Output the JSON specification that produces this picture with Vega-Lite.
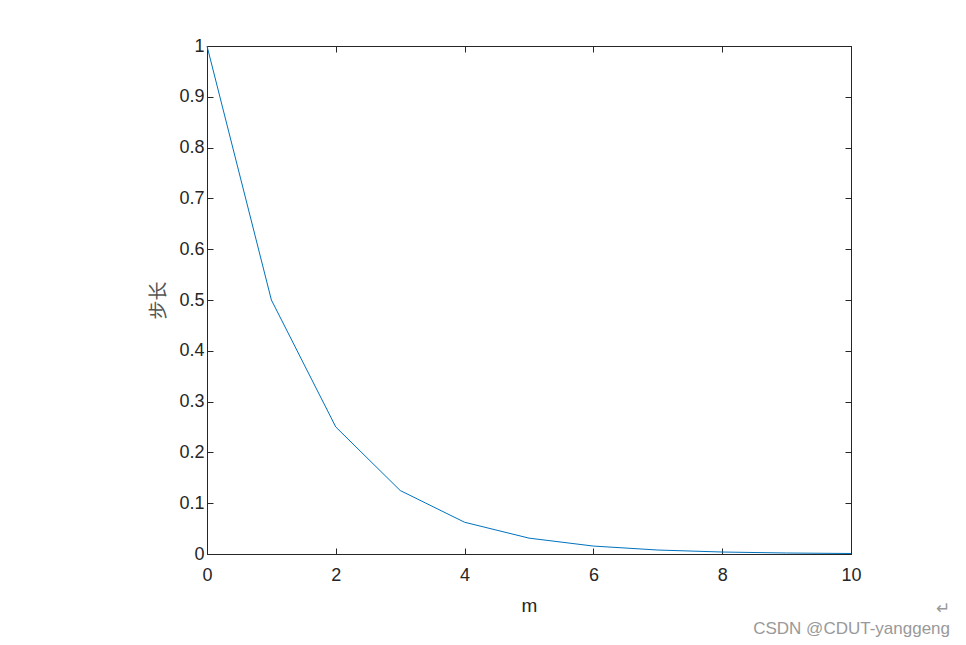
{
  "$schema": "https://vega.github.io/schema/vega-lite/v6.json",
  "width": 644,
  "height": 508,
  "autosize": "none",
  "padding": {"left": 207, "top": 46, "right": 115, "bottom": 91},
  "background": "white",
  "title": {
    "text": ["↵", "CSDN @CDUT-yanggeng"],
    "orient": "bottom",
    "anchor": "end",
    "dx": 89,
    "offset": -14,
    "font": "Liberation Sans",
    "fontSize": 17,
    "fontWeight": "normal",
    "color": "#999999",
    "lineHeight": 20
  },
  "data": {
    "values": [
      {"m": 0, "step": 1},
      {"m": 1, "step": 0.5},
      {"m": 2, "step": 0.25},
      {"m": 3, "step": 0.125},
      {"m": 4, "step": 0.0625},
      {"m": 5, "step": 0.03125},
      {"m": 6, "step": 0.015625},
      {"m": 7, "step": 0.0078125},
      {"m": 8, "step": 0.00390625},
      {"m": 9, "step": 0.001953125},
      {"m": 10, "step": 0.0009765625}
    ]
  },
  "config": {
    "view": {"stroke": "#262626", "strokeWidth": 1},
    "axis": {
      "domainColor": "#262626",
      "tickColor": "#262626",
      "labelColor": "#262626",
      "titleColor": "#262626",
      "labelFont": "Liberation Sans",
      "titleFont": "Liberation Sans",
      "labelFontSize": 18,
      "titleFontSize": 19,
      "titleFontWeight": "normal",
      "labelFlush": false,
      "labelOverlap": false,
      "grid": false,
      "tickSize": -6
    }
  },
  "layer": [
    {
      "mark": {"type": "line", "color": "#0072BD", "strokeWidth": 1},
      "encoding": {
        "x": {
          "field": "m",
          "type": "quantitative",
          "scale": {"domain": [0, 10], "nice": false},
          "axis": {"values": [0, 2, 4, 6, 8, 10], "title": "m", "labelPadding": 18, "titlePadding": 12}
        },
        "y": {
          "field": "step",
          "type": "quantitative",
          "scale": {"domain": [0, 1], "nice": false},
          "axis": {
            "values": [0, 0.1, 0.2, 0.3, 0.4, 0.5, 0.6, 0.7, 0.8, 0.9, 1],
            "format": ".1~f",
            "title": "步长",
            "titleFont": "Noto Sans CJK SC",
            "titleColor": "#555555",
            "labelPadding": 9,
            "titlePadding": 10
          }
        }
      }
    },
    {
      "mark": {"type": "line", "opacity": 0},
      "encoding": {
        "x": {
          "field": "m",
          "type": "quantitative",
          "scale": {"domain": [0, 10], "nice": false},
          "axis": {"orient": "top", "values": [0, 2, 4, 6, 8, 10], "labels": false, "title": null}
        },
        "y": {
          "field": "step",
          "type": "quantitative",
          "scale": {"domain": [0, 1], "nice": false},
          "axis": {"orient": "right", "values": [0, 0.1, 0.2, 0.3, 0.4, 0.5, 0.6, 0.7, 0.8, 0.9, 1], "labels": false, "title": null}
        }
      }
    }
  ],
  "resolve": {"axis": {"x": "independent", "y": "independent"}}
}
